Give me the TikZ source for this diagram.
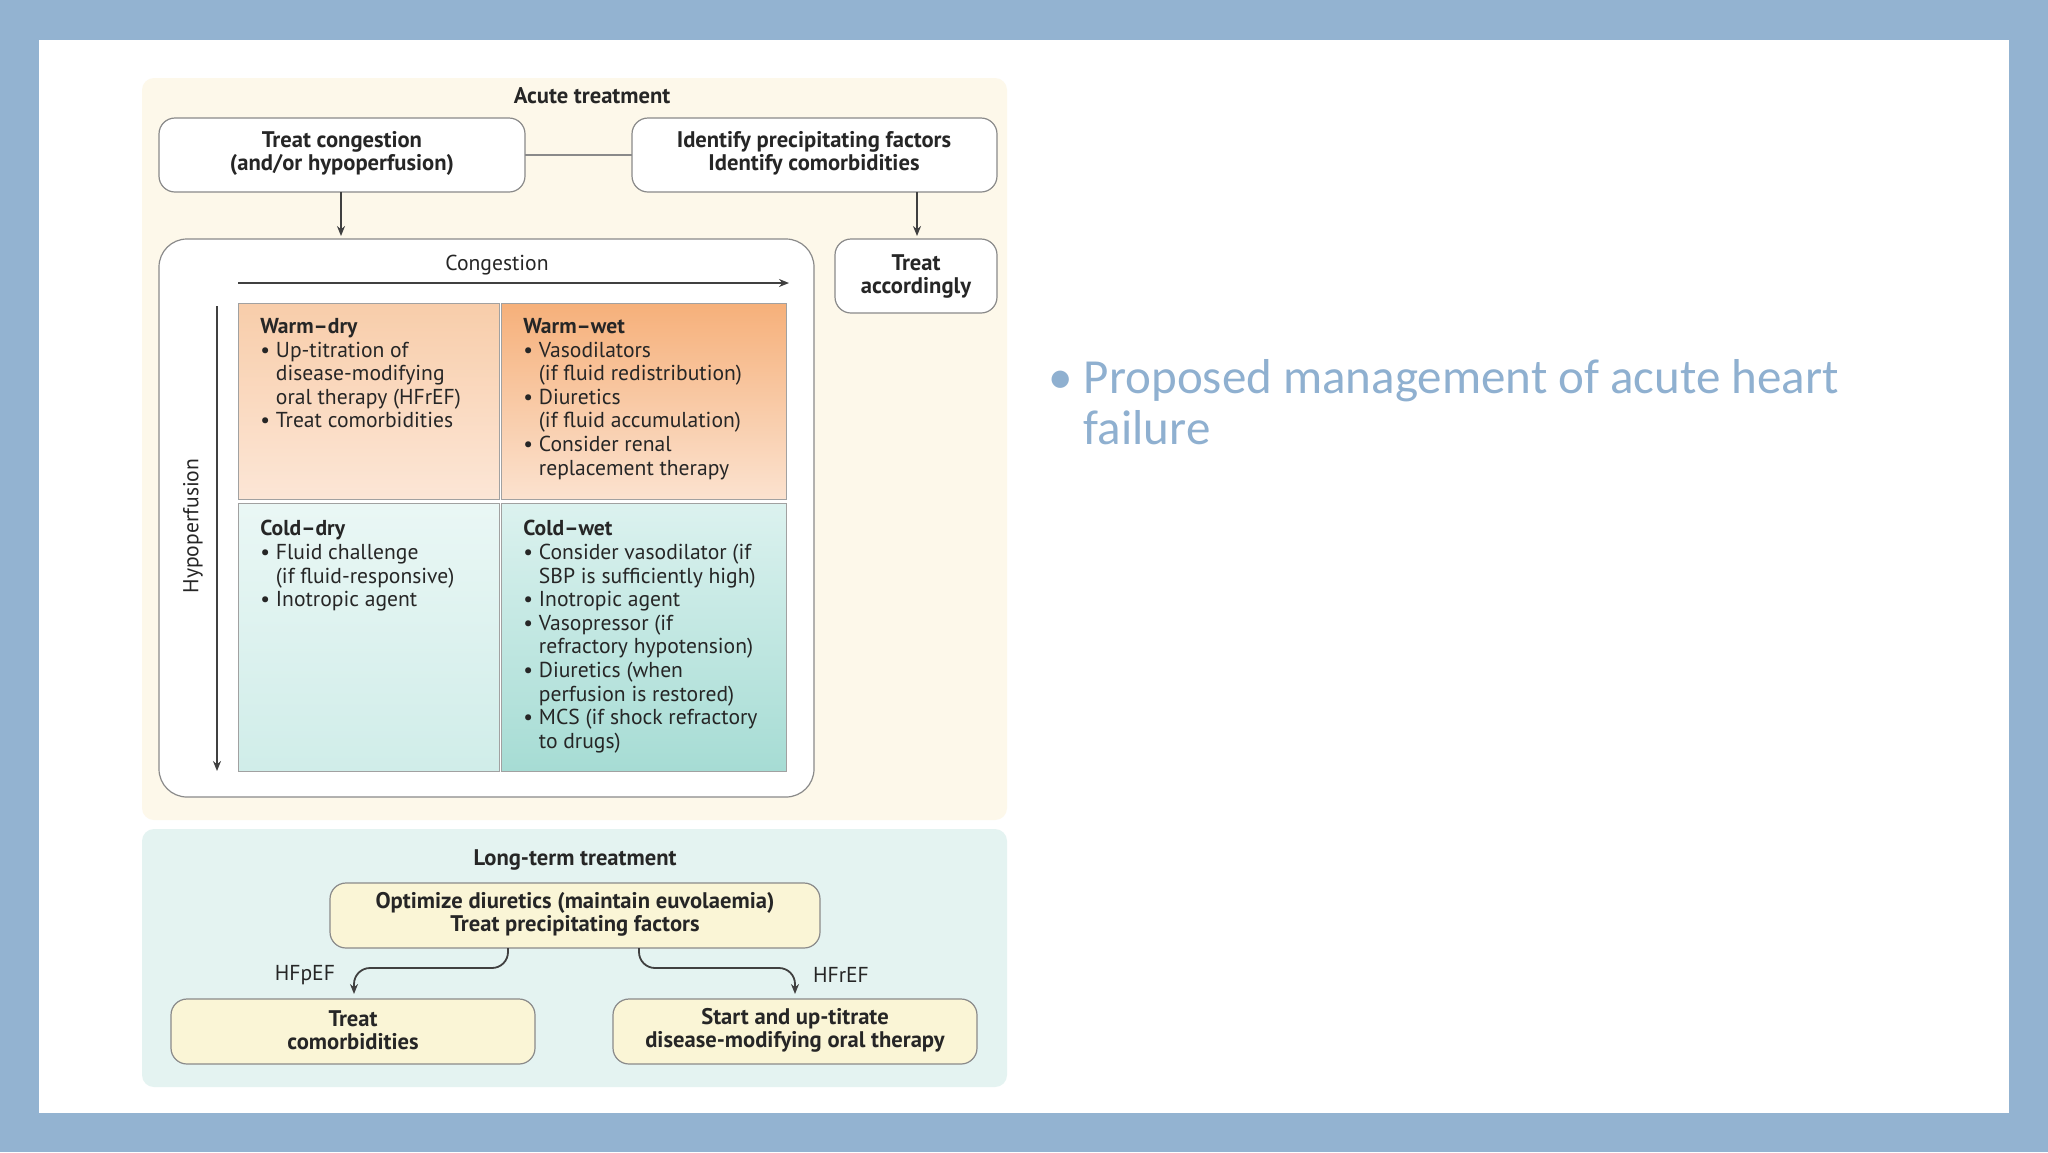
\documentclass[tikz,border=0pt]{standalone}
\usepackage{fontspec}
\setmainfont{PT Sans}
\newfontfamily\slidefont{Carlito}
\usetikzlibrary{arrows.meta}
\definecolor{bgblue}{HTML}{93B3D1}
\definecolor{acute}{HTML}{FDF8EA}
\definecolor{longt}{HTML}{E4F3F1}
\definecolor{boxy}{HTML}{FAF5D6}
\definecolor{edge}{HTML}{8A8A8A}
\definecolor{slidetxt}{HTML}{8FB0D0}
\definecolor{wdT}{HTML}{F8CDAA}\definecolor{wdB}{HTML}{FCE6D6}
\definecolor{wwT}{HTML}{F6B07A}\definecolor{wwB}{HTML}{FBE2CF}
\definecolor{cdT}{HTML}{EAF7F5}\definecolor{cdB}{HTML}{D0EDE9}
\definecolor{cwT}{HTML}{DCF2EF}\definecolor{cwB}{HTML}{A6DCD4}
\newcommand{\bul}{\textbullet~}
\newcommand{\ind}{\phantom{\textbullet~}}
\begin{document}
\begin{tikzpicture}[x=0.5pt,y=-0.5pt,
  txt/.style={font=\fontsize{10.8}{11.8}\selectfont,text=black!85},
  rbox/.style={draw=edge,line width=0.6pt,rounded corners=8pt,fill=white},
  btxt/.style={font=\fontsize{11.3}{11.5}\selectfont\bfseries,align=center,text=black!85},
  cell/.style={draw=edge!80,line width=0.5pt},
  ctext/.style={txt,anchor=north west,align=left,inner sep=0pt},
  arr/.style={-{Stealth[length=5pt,width=4pt]},line width=0.9pt,black!75}]
\useasboundingbox (0,0) rectangle (2048,1152);
\fill[bgblue] (0,0) rectangle (2048,1152);
\fill[white] (39,40) rectangle (2009,1113);
% panels
\fill[acute,rounded corners=6pt] (142,78) rectangle (1007,820);
\fill[longt,rounded corners=6pt] (142,829) rectangle (1007,1087);
\node[btxt] (acuteT) at (592,96) {Acute treatment};
\node[btxt] (longT) at (575,860) {Long-term treatment};
% top boxes
\draw[rbox] (159,118) rectangle (525,192);
\node[btxt] (tc) at (342,153) {Treat congestion\\(and/or hypoperfusion)};
\draw[rbox] (632,118) rectangle (997,192);
\node[btxt] (ip) at (814,153) {Identify precipitating factors\\Identify comorbidities};
\coordinate (tcR) at (525,155); \coordinate (ipL) at (632,155);
\draw[line width=0.6pt,edge] (tcR) -- (ipL);
\coordinate (a1s) at (341,192); \coordinate (a1e) at (341,236);
\draw[arr] (a1s) -- (a1e);
\coordinate (a2s) at (917,192); \coordinate (a2e) at (917,236);
\draw[arr] (a2s) -- (a2e);
\draw[rbox] (835,239) rectangle (997,313);
\node[btxt] (ta) at (916,276) {Treat\\accordingly};
% big box
\draw[rbox,rounded corners=14pt] (159,239) rectangle (814,797);
\node[txt] (cong) at (497,265) {Congestion};
\coordinate (cs) at (238,283); \coordinate (ce) at (789,283);
\draw[arr] (cs) -- (ce);
\coordinate (hs) at (217,306); \coordinate (he) at (217,771);
\draw[arr] (hs) -- (he);
\node[txt,rotate=90] (hyp) at (193,526) {Hypoperfusion};
% cells
\shade[top color=wdT,bottom color=wdB] (238,303) rectangle (499,499);
\shade[top color=wwT,bottom color=wwB] (501,303) rectangle (786,499);
\shade[top color=cdT,bottom color=cdB] (238,503) rectangle (499,771);
\shade[top color=cwT,bottom color=cwB] (501,503) rectangle (786,771);
\draw[cell] (238,303) rectangle (499,499);
\draw[cell] (501,303) rectangle (786,499);
\draw[cell] (238,503) rectangle (499,771);
\draw[cell] (501,503) rectangle (786,771);
\node[ctext] (wd) at (260,318) {\textbf{Warm–dry}\\\bul Up-titration of\\\ind disease-modifying\\\ind oral therapy (HFrEF)\\\bul Treat comorbidities};
\node[ctext] (ww) at (523,318) {\textbf{Warm–wet}\\\bul Vasodilators\\\ind (if fluid redistribution)\\\bul Diuretics\\\ind (if fluid accumulation)\\\bul Consider renal\\\ind replacement therapy};
\node[ctext] (cd) at (260,520) {\textbf{Cold–dry}\\\bul Fluid challenge\\\ind (if fluid-responsive)\\\bul Inotropic agent};
\node[ctext] (cw) at (523,520) {\textbf{Cold–wet}\\\bul Consider vasodilator (if\\\ind SBP is sufficiently high)\\\bul Inotropic agent\\\bul Vasopressor (if\\\ind refractory hypotension)\\\bul Diuretics (when\\\ind perfusion is restored)\\\bul MCS (if shock refractory\\\ind to drugs)};
% long-term
\draw[rbox,fill=boxy] (330,883) rectangle (820,948);
\node[btxt] (opt) at (575,914) {Optimize diuretics (maintain euvolaemia)\\Treat precipitating factors};
\draw[rbox,fill=boxy] (171,999) rectangle (535,1064);
\node[btxt] (tcm) at (353,1030) {Treat\\comorbidities};
\draw[rbox,fill=boxy] (613,999) rectangle (977,1064);
\node[btxt] (st) at (795,1030) {Start and up-titrate\\disease-modifying oral therapy};
\coordinate (l1) at (508,948); \coordinate (l2) at (354,994);
\draw[arr,rounded corners=8pt] (l1) |- (431,968) -| (l2);
\coordinate (r1) at (639,948); \coordinate (r2) at (795,994);
\draw[arr,rounded corners=8pt] (r1) |- (717,968) -| (r2);
\node[txt,anchor=east] (hfp) at (342,975) {HFpEF};
\node[txt,anchor=west] (hfr) at (806,975) {HFrEF};
% slide text
\node[anchor=north west,align=left,text=slidetxt,inner sep=0pt,font=\slidefont\fontsize{24.5}{25.5}\selectfont] (bt) at (1048,359) {\textbullet\ Proposed management of acute heart\\\phantom{\textbullet\ }failure};
\end{tikzpicture}
\end{document}
